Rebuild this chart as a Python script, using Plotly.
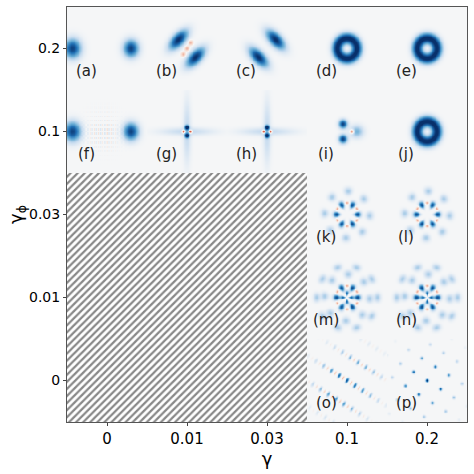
import numpy as np
import plotly.graph_objects as go

gamma_labels = ["0", "0.01", "0.03", "0.1", "0.2"]
gamma_phi_labels = ["0", "0.01", "0.03", "0.1", "0.2"]
panel_letters = ["(a)", "(b)", "(c)", "(d)", "(e)", "(f)", "(g)", "(h)", "(i)", "(j)",
                 "(k)", "(l)", "(m)", "(n)", "(o)", "(p)"]
panel_col = [0, 1, 2, 3, 4, 0, 1, 2, 3, 4, 3, 4, 3, 4, 3, 4]
panel_row = [4, 4, 4, 4, 4, 3, 3, 3, 3, 3, 2, 2, 1, 1, 0, 0]
panel_kind = ["pair", "diagR", "diagL", "ring", "ring", "pairF", "cross", "cross", "tri", "ring",
              "lobes", "lobes", "lobes2", "lobes2", "lattice", "lattice2"]
hatched_cols = [0, 1, 2]
hatched_rows = [0, 1, 2]

N = 500
xs = np.linspace(-0.5, 4.5, N)
ys = np.linspace(-0.5, 4.5, N)
X, Y = np.meshgrid(xs, ys)
Z = np.zeros_like(X)

def g(u, v, x0, y0, sx, sy, a=1.0):
    return a * np.exp(-((u - x0) / sx) ** 2 - ((v - y0) / sy) ** 2)

def rot(u, v, t):
    return u * np.cos(t) - v * np.sin(t), u * np.sin(t) + v * np.cos(t)

for c, r, k in zip(panel_col, panel_row, panel_kind):
    u = X - c
    v = Y - r
    m = (np.abs(u) <= 0.5) & (np.abs(v) <= 0.5)
    R = np.hypot(u, v)
    th = np.arctan2(v, u)
    if k in ("pair", "pairF"):
        p = g(u, v, -0.43, 0, 0.1, 0.11) + g(u, v, 0.3, 0, 0.09, 0.1)
        if k == "pairF":
            p += -0.12 * np.cos(u * 120) * g(u, v, -0.05, 0, 0.2, 0.2) * (np.abs(np.sin(v * 60)) > 0.7)
    elif k in ("diagR", "diagL"):
        t = np.pi / 4 if k == "diagR" else -np.pi / 4
        a, b = rot(u, v, -t)
        p = 1.1 * (g(a, b, 0, 0.15, 0.14, 0.07) + g(a, b, 0, -0.15, 0.14, 0.07))
        if k == "diagR":
            p -= 0.3 * (g(a, b, 0.08, 0.02, 0.03, 0.03) + g(a, b, -0.08, -0.02, 0.03, 0.03)
                        + g(a, b, 0.0, 0.0, 0.03, 0.03))
    elif k == "ring":
        p = 1.15 * np.exp(-((R - 0.12) / 0.065) ** 2)
    elif k == "cross":
        p = 0.22 * (g(u, v, 0, 0, 0.32, 0.045) + g(u, v, 0, 0, 0.045, 0.36))
        p += 1.1 * (g(u, v, 0, 0.05, 0.025, 0.025) + g(u, v, 0, -0.05, 0.025, 0.025))
        p -= 0.9 * (g(u, v, 0.04, 0, 0.02, 0.02) + g(u, v, -0.04, 0, 0.02, 0.02))
    elif k == "tri":
        p = g(u, v, -0.05, 0.09, 0.05, 0.05) + g(u, v, -0.05, -0.09, 0.05, 0.05) + 0.45 * g(u, v, 0.12, 0, 0.08, 0.07)
        p -= 0.6 * g(u, v, 0.06, 0, 0.025, 0.025)
    elif k in ("lobes", "lobes2"):
        p = 0.95 * np.exp(-((R - 0.13) / 0.04) ** 2) * (0.5 + 0.5 * np.cos(6 * th)) ** 2
        p -= 0.3 * np.exp(-((R - 0.14) / 0.015) ** 2) * (0.5 - 0.5 * np.cos(6 * th)) ** 4
        p += 0.3 * np.exp(-((R - 0.28) / 0.045) ** 2) * (0.5 + 0.5 * np.cos(8 * th + 0.4)) ** 2
        if k == "lobes2":
            p += 0.8 * np.exp(-((R - 0.05) / 0.03) ** 2) * (0.5 + 0.5 * np.cos(4 * th)) ** 2
            p += 0.3 * np.exp(-((R - 0.38) / 0.04) ** 2) * (0.5 + 0.5 * np.cos(10 * th)) ** 2
    else:
        a, b = rot(u, v, 0.55)
        env = g(u, v, 0, -0.03, 0.36, 0.36)
        if k == "lattice":
            p = 0.9 * env * (np.maximum(0, np.cos(a * 55)) ** 2 * np.maximum(0, np.cos(b * 24)) ** 3)
            p -= 0.3 * env * np.maximum(0, -np.cos(a * 55)) ** 6 * np.maximum(0, np.cos(b * 24)) ** 6
        else:
            p = 1.1 * env * (np.maximum(0, np.cos(a * 32)) * np.maximum(0, np.cos(b * 32))) ** 5
    Z = np.where(m, p, Z)

cscale = [[0.0, "#8b0a1e"], [0.25, "#d6604d"], [0.42, "#f7d7c8"], [0.5, "#f5f6f7"],
          [0.6, "#c6dbef"], [0.72, "#6baed6"], [0.85, "#2171b5"], [1.0, "#08306b"]]
fig = go.Figure()
fig.add_trace(go.Heatmap(x=xs, y=ys, z=Z, colorscale=cscale, zmin=-1.1, zmax=1.1,
                         showscale=False, hoverinfo="skip"))

hx0, hx1 = min(hatched_cols) - 0.5, max(hatched_cols) + 0.5
hy0, hy1 = min(hatched_rows) - 0.5, max(hatched_rows) + 0.5
fig.add_trace(go.Scatter(x=[hx0, hx1, hx1, hx0, hx0], y=[hy0, hy0, hy1, hy1, hy0],
                         mode="lines", line=dict(width=0), fill="toself", fillcolor="white",
                         fillpattern=dict(shape="/", fgcolor="#111111", bgcolor="white", size=5, solidity=0.45),
                         hoverinfo="skip", showlegend=False))

for t, c, r in zip(panel_letters, panel_col, panel_row):
    fig.add_annotation(x=c - 0.26, y=r - 0.27, text=t, showarrow=False,
                       font=dict(size=15, color="#222"))

fig.update_xaxes(range=[-0.5, 4.5], tickvals=list(range(5)), ticktext=gamma_labels, automargin=False,
                 showgrid=False, zeroline=False, showline=True, linecolor="#555", mirror=True,
                 ticks="outside", ticklen=3, tickfont=dict(size=15, color="black"),
                 title=dict(text="γ", font=dict(size=18, color="black"), standoff=0))
fig.update_yaxes(range=[-0.5, 4.5], tickvals=list(range(5)), ticktext=gamma_phi_labels, automargin=False,
                 showgrid=False, zeroline=False, showline=True, linecolor="#555", mirror=True,
                 ticks="outside", ticklen=3, tickfont=dict(size=14, color="black"),
                 title=dict(text="γ<sub>ϕ</sub>", font=dict(size=18, color="black"), standoff=0))
fig.update_layout(width=474, height=474, margin=dict(l=67, r=7, t=7, b=52),
                  plot_bgcolor="white", paper_bgcolor="white",
                  font=dict(family="DejaVu Sans"), showlegend=False)
fig.write_html("out.html", post_script="document.body.style.margin='0';",
               config={"displayModeBar": False})
